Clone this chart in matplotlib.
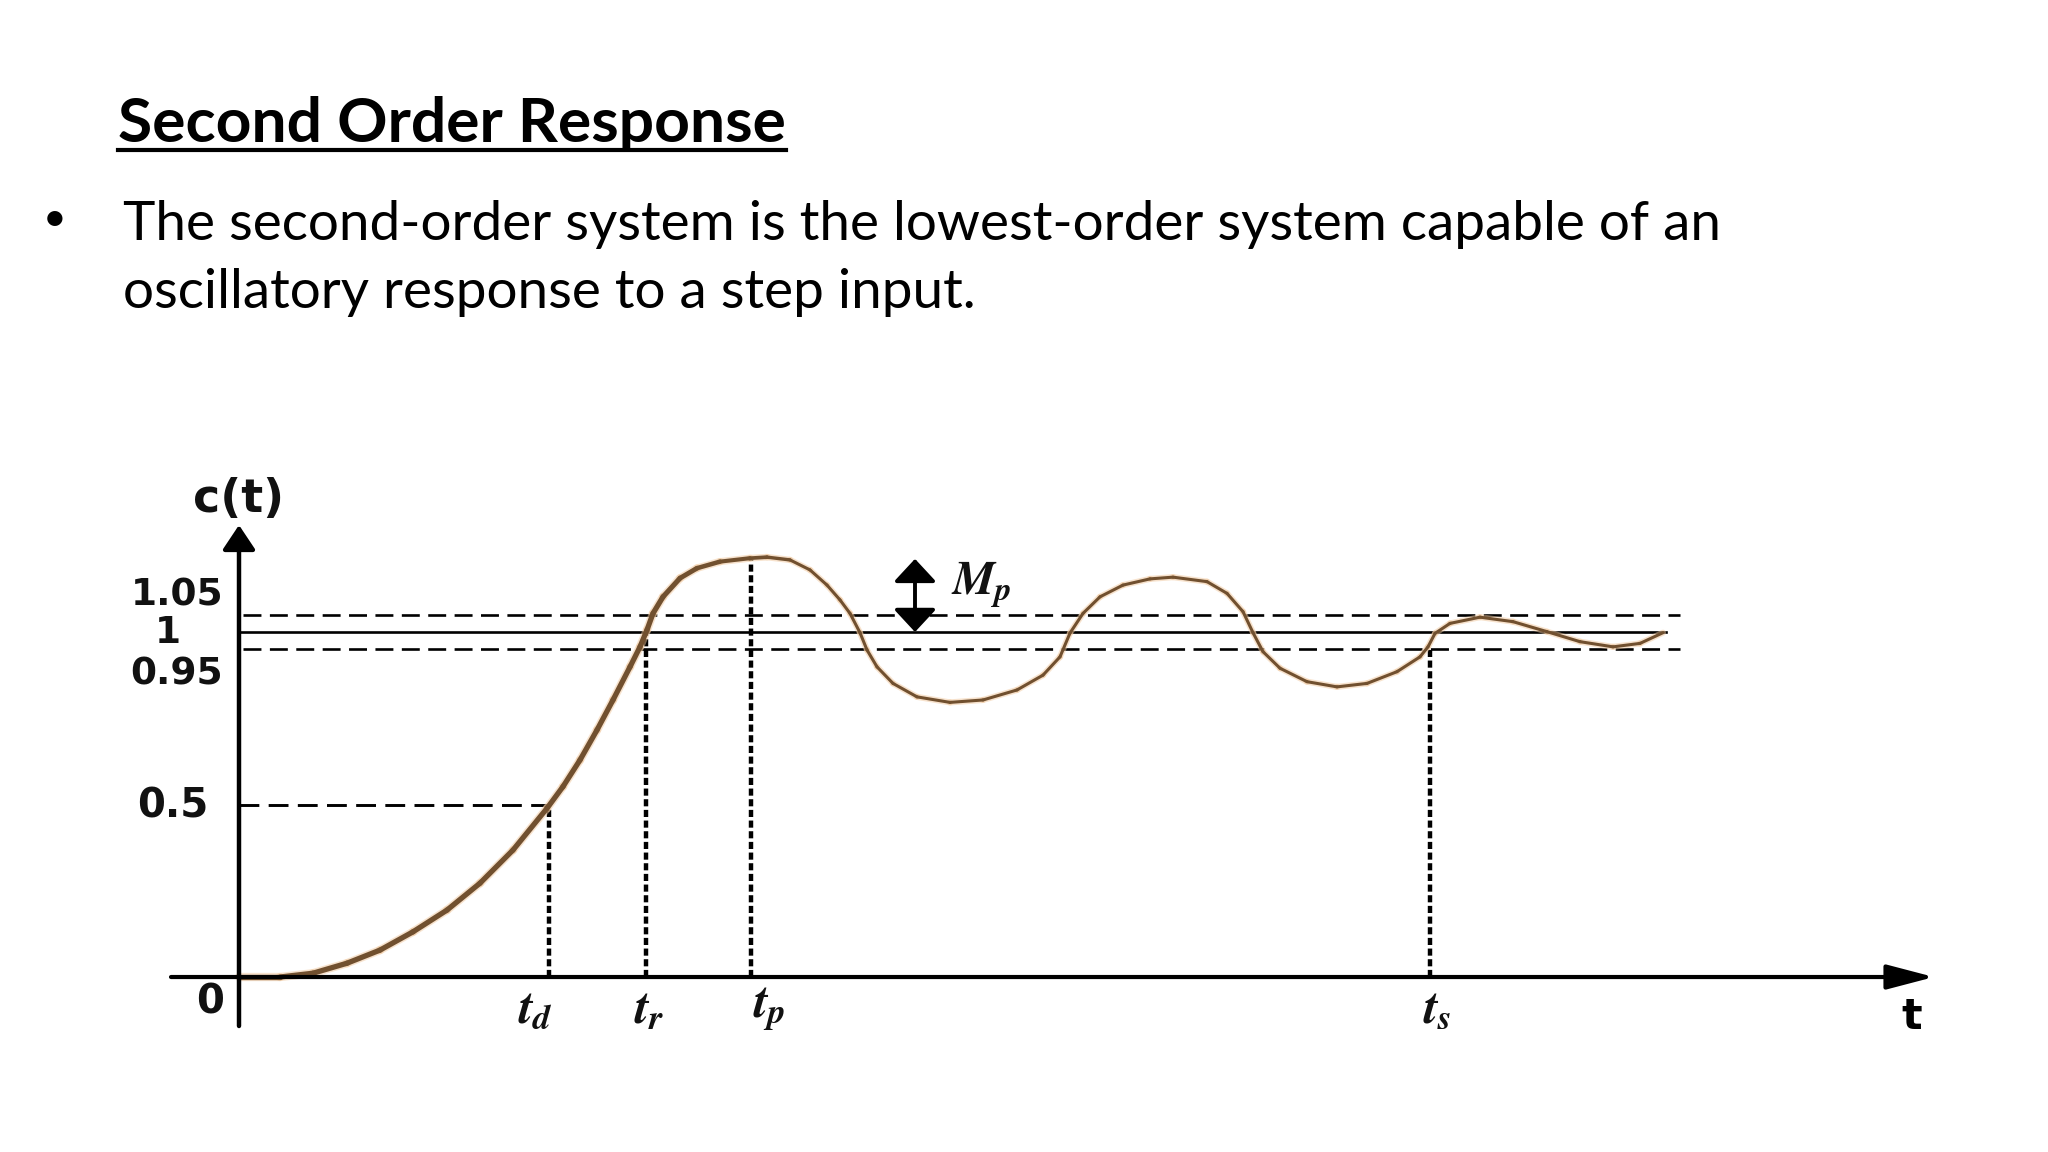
import matplotlib
matplotlib.use("Agg")
import matplotlib.pyplot as plt
import numpy as np
from matplotlib.collections import LineCollection
from matplotlib.lines import Line2D

plt.rcParams['mathtext.fontset'] = 'custom'
plt.rcParams['mathtext.it'] = 'STIXGeneral:italic:bold'
plt.rcParams['mathtext.rm'] = 'STIXGeneral:bold'
plt.rcParams['mathtext.bf'] = 'STIXGeneral:bold'

# ---------------- data ----------------
title_text = "Second Order Response"
body_lines = ["The second-order system is the lowest-order system capable of an",
              "oscillatory response to a step input."]

t_vals = [0.00, 0.41, 0.74, 1.08, 1.41, 1.74, 2.08, 2.41, 2.74, 3.08, 3.24, 3.41, 3.58,
          3.74, 3.91, 4.01, 4.08, 4.14, 4.24, 4.41, 4.58,
          4.81, 5.11, 5.28, 5.51, 5.71, 5.88, 6.01, 6.11, 6.21, 6.28, 6.38, 6.54, 6.78,
          7.11, 7.44, 7.78, 8.04, 8.21, 8.31, 8.44, 8.61, 8.84, 9.11, 9.34,
          9.68, 9.88, 10.04, 10.14, 10.24, 10.41, 10.68, 10.98, 11.28, 11.58, 11.81,
          11.89, 11.96, 12.11, 12.41, 12.74, 13.08, 13.41, 13.74, 14.01, 14.24]
c_vals = [0.000, 0.000, 0.011, 0.040, 0.078, 0.131, 0.194, 0.272, 0.368, 0.489, 0.552,
          0.629, 0.716, 0.803, 0.899, 0.957, 1.006, 1.054, 1.102, 1.156, 1.185,
          1.204, 1.214, 1.217, 1.209, 1.180, 1.136, 1.093, 1.054, 0.998, 0.948, 0.899,
          0.851, 0.812, 0.796, 0.803, 0.832, 0.875, 0.928, 0.997, 1.054, 1.102, 1.136,
          1.154, 1.159,
          1.146, 1.112, 1.059, 0.998, 0.943, 0.895, 0.856, 0.841, 0.851, 0.885, 0.928,
          0.957, 0.996, 1.025, 1.043, 1.030, 1.001, 0.972, 0.957, 0.967, 0.998]

band_levels = [1.05, 0.95]
final_value = 1.0
half_value = 0.5
y_label_vals = [1.05, 1.0, 0.95, 0.5, 0.0]
y_label_text = ["1.05", "1", "0.95", "0.5", "0"]

mark_names = ["$t_d$", "$t_r$", "$t_p$", "$t_s$"]
mark_times = [3.10, 4.07, 5.12, 11.91]
mark_levels = [0.5, 1.0, 1.214, 0.95]
peak_value = 1.217
mp_time = 6.76
t_end = 14.41

# ---------------- figure ----------------
W, H = 2048, 1152
fig = plt.figure(figsize=(W / 100, H / 100), dpi=100)
fig.patch.set_facecolor("white")

ax = fig.add_axes([0, 0, 1, 1])
ax.set_xlim(-2.39, 18.09)
ax.set_ylim(-0.5072, 2.8319)
ax.axis("off")

# axes with arrows
ax.annotate("", xy=(0, 1.31), xytext=(0, -0.142),
            arrowprops=dict(arrowstyle="-|>,head_length=0.75,head_width=0.5",
                            lw=3.2, color="black", mutation_scale=20,
                            shrinkA=0, shrinkB=0))
ax.annotate("", xy=(16.95, 0), xytext=(-0.68, 0),
            arrowprops=dict(arrowstyle="-|>,head_length=1.45,head_width=0.38",
                            lw=3.0, color="black", mutation_scale=20,
                            shrinkA=0, shrinkB=0))

# reference lines
dash_h = (0, (6.8, 3.2))
for lvl in band_levels:
    ax.plot([0.04, t_end], [lvl, lvl], color="black", lw=1.9, ls=dash_h)
ax.plot([0, t_end - 0.14], [final_value, final_value], color="black", lw=1.9)
ax.plot([0, mark_times[0]], [half_value, half_value], color="black", lw=2.1, ls=dash_h)

dash_v = (0, (1.6, 0.8))
for tm, lv in zip(mark_times, mark_levels):
    ax.plot([tm, tm], [0, lv], color="black", lw=3.2, ls=dash_v,
            dash_capstyle="butt")

# response curve
t_arr = np.array(t_vals)
c_arr = np.array(c_vals)
pts = np.column_stack([t_arr, c_arr]).reshape(-1, 1, 2)
segs = np.concatenate([pts[:-1], pts[1:]], axis=1)
mid_t = 0.5 * (t_arr[:-1] + t_arr[1:])
widths = np.interp(mid_t, [0, 4.2, 5.6, 20], [3.8, 3.8, 2.2, 2.2])
glow = LineCollection(segs, linewidths=widths + 2.2, colors="#f0c79c", alpha=0.5,
                      capstyle="round", joinstyle="round")
ax.add_collection(glow)
lc = LineCollection(segs, linewidths=widths, colors="#71502f",
                    capstyle="round", joinstyle="round")
ax.add_collection(lc)

# Mp double arrow
ax.annotate("", xy=(mp_time, peak_value - 0.005), xytext=(mp_time, final_value),
            arrowprops=dict(arrowstyle="<|-|>,head_length=0.7,head_width=0.65",
                            lw=2.8, color="black", mutation_scale=20,
                            shrinkA=0, shrinkB=0))
ax.text(7.12, 1.136, "$M_p$", fontsize=34, ha="left", va="center", color="#111111")

# y labels
lab_pos = {"1.05": (-0.16, 1.106, 27, "right"), "1": (-0.71, 0.997, 27, "center"),
           "0.95": (-0.16, 0.878, 27, "right"), "0.5": (-0.31, 0.493, 29, "right"),
           "0": (-0.15, -0.075, 29, "right")}
for txt in y_label_text:
    x, y, fs, ha = lab_pos[txt]
    ax.text(x, y, txt, fontsize=fs, fontweight="bold", family="DejaVu Sans",
            ha=ha, va="center", color="#111111")
ax.text(0.0, 1.385, "c(t)", fontsize=33, fontweight="bold", family="DejaVu Sans",
        ha="center", va="center", color="#111111")

# time markers labels
label_x = [2.96, 4.10, 5.30, 11.98]
for name, lx in zip(mark_names, label_x):
    ax.text(lx, -0.093, name, fontsize=36, ha="center", va="center", color="#111111")
ax.text(16.73, -0.116, "t", fontsize=31, fontweight="bold", family="DejaVu Sans",
        ha="center", va="center", color="black")

# ---------------- slide text ----------------
fig.canvas.draw()
renderer = fig.canvas.get_renderer()


def fit_width(t, target):
    w = t.get_window_extent(renderer).width
    t.set_fontsize(t.get_fontsize() * target / w)


title = fig.text(118 / W, 1 - 142 / H, title_text, fontsize=50, fontweight="bold",
                 family="Lato", ha="left", va="baseline", color="black")
fit_width(title, 670)
line1 = fig.text(123 / W, 1 - 240 / H, body_lines[0], fontsize=48, family="Lato",
                 ha="left", va="baseline", color="black")
fit_width(line1, 1598)
line2 = fig.text(123 / W, 1 - 308 / H, body_lines[1], fontsize=line1.get_fontsize(),
                 family="Lato", ha="left", va="baseline", color="black")
fig.text(55 / W, 1 - 220 / H, "\u2022", fontsize=line1.get_fontsize() * 0.75,
         family="Lato", ha="center", va="center", color="black")

fig.canvas.draw()
bb = title.get_window_extent(renderer)
fig.add_artist(Line2D([bb.x0 / W, bb.x1 / W], [1 - 150 / H, 1 - 150 / H],
                      transform=fig.transFigure, color="black", lw=3.0))

fig.savefig("out.png", dpi=100, facecolor="white")
